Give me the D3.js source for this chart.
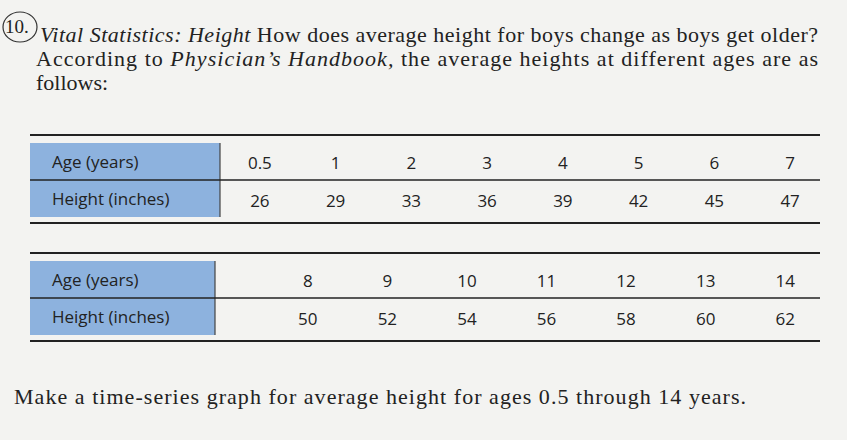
<!DOCTYPE html>
<html><head><meta charset="utf-8">
<script src="https://cdn.jsdelivr.net/npm/d3@7"></script>
<style>body{margin:0;background:#f4f4f2;}svg{display:block}</style>
</head><body>
<svg id="c" width="847" height="440"></svg>
<script>
const ages1 = ["0.5","1","2","3","4","5","6","7"];
const heights1 = [26,29,33,36,39,42,45,47];
const ages2 = ["8","9","10","11","12","13","14"];
const heights2 = [50,52,54,56,58,60,62];
const rowLabels = ["Age (years)","Height (inches)"];

const svg = d3.select("#c");
svg.append("rect").attr("width",847).attr("height",440).attr("fill","#f3f3f1");
const serif = "Liberation Serif, DejaVu Serif, serif";
const sans = "Open Sans, Noto Sans, sans-serif";

svg.append("ellipse").attr("cx",20).attr("cy",27).attr("rx",17).attr("ry",15).attr("fill","none").attr("stroke","#333").attr("stroke-width",1.2);
svg.append("text").attr("x",5).attr("y",33).attr("font-family",serif).attr("font-size",19).attr("fill","#222").text("10.");

const t1 = svg.append("text").attr("x",40).attr("y",42).attr("font-family",serif).attr("font-size",22).attr("fill","#222").attr("textLength",778).attr("lengthAdjust","spacing");
t1.append("tspan").attr("font-style","italic").text("Vital Statistics: Height");
t1.append("tspan").text(" How does average height for boys change as boys get older?");
const t2 = svg.append("text").attr("x",36).attr("y",66).attr("font-family",serif).attr("font-size",22).attr("fill","#222").attr("textLength",782).attr("lengthAdjust","spacing");
t2.append("tspan").text("According to ");
t2.append("tspan").attr("font-style","italic").text("Physician’s Handbook,");
t2.append("tspan").text(" the average heights at different ages are as");
svg.append("text").attr("x",36).attr("y",90).attr("font-family",serif).attr("font-size",22).attr("fill","#222").text("follows:");

function table(ages, heights, top, headW, x0, x1){
  const g = svg.append("g");
  const rowH = 37, y0 = top+8;
  const x = d3.scaleBand().domain(ages).range([x0, x1]);
  g.append("line").attr("x1",30).attr("x2",820).attr("y1",top).attr("y2",top).attr("stroke","#222").attr("stroke-width",2);
  g.append("rect").attr("x",30).attr("y",y0).attr("width",headW-30).attr("height",rowH*2).attr("fill","#8db2de");
  g.append("line").attr("x1",headW).attr("x2",headW).attr("y1",y0).attr("y2",y0+rowH*2).attr("stroke","#444").attr("stroke-width",1.2);
  g.append("line").attr("x1",30).attr("x2",820).attr("y1",y0+rowH).attr("y2",y0+rowH).attr("stroke","#222").attr("stroke-width",1.5);
  g.append("line").attr("x1",30).attr("x2",820).attr("y1",y0+rowH*2+6).attr("y2",y0+rowH*2+6).attr("stroke","#222").attr("stroke-width",2);
  rowLabels.forEach((l,i)=>g.append("text").attr("x",52).attr("y",y0+rowH*i+25).attr("font-family",sans).attr("font-size",17).attr("fill","#222").text(l));
  g.selectAll(".a").data(ages).join("text").attr("x",d=>x(d)+x.bandwidth()/2).attr("y",y0+26).attr("text-anchor","middle").attr("font-family",sans).attr("font-size",17).attr("fill","#222").text(d=>d);
  g.selectAll(".h").data(heights).join("text").attr("x",(d,i)=>x(ages[i])+x.bandwidth()/2).attr("y",y0+rowH+27).attr("text-anchor","middle").attr("font-family",sans).attr("font-size",17).attr("fill","#222").text(d=>d);
}
table(ages1, heights1, 135, 220, 222, 828);
table(ages2, heights2, 253, 215, 268, 825);

svg.append("text").attr("x",14).attr("y",404).attr("font-family",serif).attr("font-size",22).attr("fill","#222").attr("textLength",732).attr("lengthAdjust","spacing")
  .text("Make a time-series graph for average height for ages 0.5 through 14 years.");
</script>
</body></html>
